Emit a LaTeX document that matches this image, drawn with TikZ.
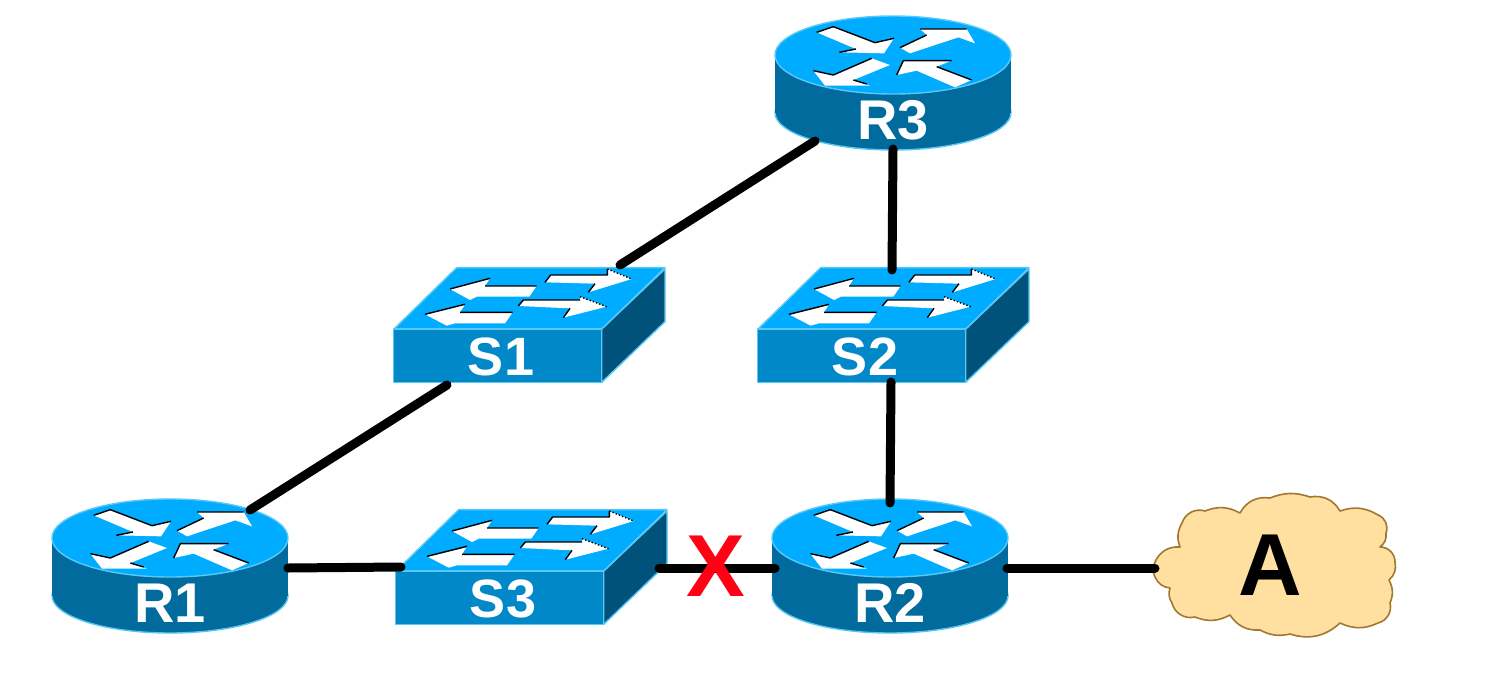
\documentclass[tikz,border=0pt]{standalone}
\usepackage{fontspec}
\setmainfont{Liberation Sans}
\definecolor{devtop}{RGB}{0,172,255}
\definecolor{rside}{RGB}{0,107,156}
\definecolor{sfront}{RGB}{0,136,200}
\definecolor{sside}{RGB}{0,82,122}
\definecolor{devedge}{RGB}{90,200,245}
\definecolor{cloudfill}{RGB}{255,224,160}
\definecolor{cloudedge}{RGB}{160,120,50}
\definecolor{markred}{RGB}{255,0,20}
\tikzset{
  link/.style={line width=4.5pt,black,line cap=round},
  devlabel/.style={inner sep=0pt,text=white,font=\fontsize{28}{28}\selectfont\bfseries},
  swlabel/.style={devlabel,font=\fontsize{27}{27}\selectfont\bfseries},
  cloudlabel/.style={inner sep=0pt,text=black,font=\fontsize{44}{44}\selectfont\bfseries},
  marklabel/.style={inner sep=0pt,text=markred,font=\fontsize{44}{44}\selectfont\bfseries},
  whitearrow/.style={fill=white,draw=none},
  arrowshade/.style={draw=black,line width=.7pt,line join=round},
  devface/.style={draw=devedge,line width=.7pt,line join=round},
  cloudshape/.style={fill=cloudfill,draw=cloudedge,line width=.8pt,line join=round}
}
% router: centre of the top ellipse at (#2,#3), picture units are pixels
\newcommand{\routerdev}[4]{%
  \begin{scope}[shift={(#2-133,#3-55)},x=0.16667pt,y=-0.16667pt]
    \draw[draw=devedge,line width=.7pt,fill=rside] (399,338) ellipse [x radius=354,y radius=112];
    \fill[rside] (45,165) rectangle (753,338);
    \draw[fill=devtop,devface] (399,165) ellipse [x radius=354,y radius=117];
    \fill[whitearrow] (170,97)--(220,80)--(345,128)--(402,115)--(372,160)--(238,157)--(288,147)--cycle;
    \fill[whitearrow] (420,143)--(500,105)--(480,87)--(620,87)--(645,130)--(595,112)--(450,160)--cycle;
    \fill[whitearrow] (160,212)--(220,225)--(335,175)--(390,195)--(280,240)--(330,257)--(195,257)--cycle;
    \fill[whitearrow] (410,225)--(430,182)--(575,182)--(530,200)--(635,240)--(585,262)--(470,212)--cycle;
    \draw[arrowshade] (170,97)--(220,80)--(345,128)--(402,115);
    \draw[arrowshade] (238,157)--(288,147);
    \draw[arrowshade] (420,143)--(500,105) (480,87)--(620,87);
    \draw[arrowshade] (160,212)--(220,225)--(335,175) (280,240)--(320,252);
    \draw[arrowshade] (410,225)--(430,182)--(575,182) (530,200)--(635,240);
  \end{scope}
  \node[devlabel] (#1) at (#2,#3+65) {#4};%
}
% switch: top-left corner of the front face at (#2,#3)
\newcommand{\switchdev}[4]{%
  \begin{scope}[shift={(#2-13,#3-74)},x=0.16667pt,y=-0.16667pt]
    \draw[fill=sside,devface] (665,222)--(855,42)--(855,200)--(665,382)--cycle;
    \draw[fill=devtop,devface] (42,222)--(230,38)--(855,38)--(665,222)--cycle;
    \draw[fill=sfront,devface] (40,222) rectangle (665,382);
    \fill[whitearrow] (495,82)--(512,60)--(682,60)--(682,42)--(755,72)--(625,112)--(645,86)--cycle;
    \fill[whitearrow] (210,102)--(330,70)--(315,93)--(470,93)--(448,125)--(290,125)--(270,135)--cycle;
    \fill[whitearrow] (415,153)--(430,135)--(600,135)--(600,125)--(680,155)--(550,188)--(570,160)--cycle;
    \fill[whitearrow] (135,178)--(255,148)--(240,172)--(398,172)--(375,205)--(225,205)--(200,212)--cycle;
    \draw[arrowshade] (495,82)--(512,60)--(682,60)--(682,42) (625,112)--(645,86);
    \draw[arrowshade,densely dotted] (682,42)--(755,72);
    \draw[arrowshade] (210,102)--(330,70) (315,93)--(470,93);
    \draw[arrowshade] (415,153)--(430,135)--(600,135) (550,188)--(570,160);
    \draw[arrowshade,densely dotted] (600,125)--(680,155);
    \draw[arrowshade] (135,178)--(255,148) (240,172)--(398,172);
  \end{scope}
  \node[swlabel] (#1) at (#2+108,#3+28) {#4};%
}
\begin{document}
\begin{tikzpicture}[x=0.5pt,y=-0.5pt]
  \useasboundingbox (0,0) rectangle (1508,674);
  \fill[white] (0,0) rectangle (1508,674);
  \routerdev{r3}{893}{55}{R3}
  \routerdev{r1}{170}{538}{R1}
  \routerdev{r2}{890}{538}{R2}
  \switchdev{s1}{393}{329}{S1}
  \switchdev{s2}{757}{329}{S2}
  \switchdev{s3}{395}{571}{S3}
  \draw[cloudshape]
    (1155,562) to[bend left=35] (1180,547) to[bend left=25] (1182,523)
    to[bend left=45] (1205,511) to[bend left=25] (1240,513)
    to[bend left=35] (1270,498) to[bend left=20] (1310,497)
    to[bend left=35] (1340,511) to[bend left=25] (1378,515)
    to[bend left=45] (1386,533) to[bend left=30] (1380,547)
    to[bend left=45] (1395,562) to[bend left=30] (1389,580)
    to[bend left=25] (1390,603) to[bend left=45] (1378,623)
    to[bend left=25] (1340,623) to[bend left=30] (1290,634)
    to[bend left=20] (1260,630) to[bend left=30] (1230,615)
    to[bend left=25] (1195,617) to[bend left=45] (1172,603)
    to[bend left=25] (1170,588) to[bend left=30] (1155,577)
    to[bend left=25] cycle;
  \node[cloudlabel] (a) at (1270,565) {A};
  \draw[link] ([shift={(-78,21)}]r3.center) -- ([shift={(119,-92)}]s1.center);
  \draw[link] ([shift={(-54,28)}]s1.center) -- ([shift={(80,-93)}]r1.center);
  \draw[link] ([shift={(0,29)}]r3.center) -- ([shift={(27,-87)}]s2.center);
  \draw[link] ([shift={(26,25)}]s2.center) -- ([shift={(0,-100)}]r2.center);
  \draw[link] ([shift={(118,-35)}]r1.center) -- ([shift={(-102,-32)}]s3.center);
  \draw[link] ([shift={(156,-31)}]s3.center) -- ([shift={(-115,-35)}]r2.center);
  \draw[link] ([shift={(117,-35)}]r2.center) -- ([shift={(-115,3)}]a.center);
  \node[marklabel] (x) at (716,566) {X};
\end{tikzpicture}
\end{document}
